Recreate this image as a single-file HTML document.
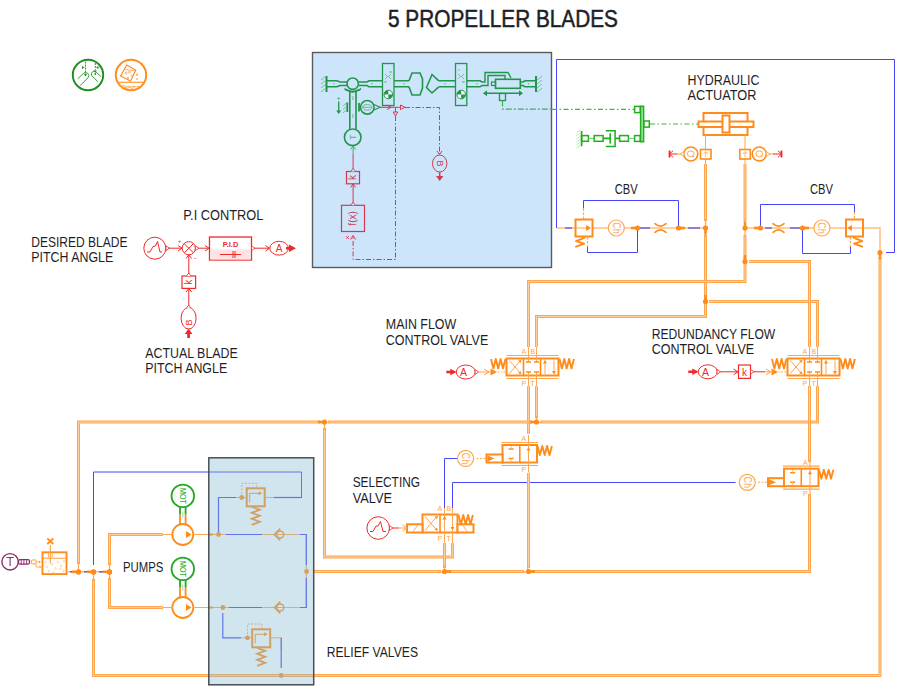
<!DOCTYPE html>
<html><head><meta charset="utf-8"><style>
html,body{margin:0;padding:0;background:#fff;}
svg{display:block;font-family:"Liberation Sans",sans-serif;}
</style></head><body>
<svg width="900" height="691" viewBox="0 0 900 691">
<rect x="312.5" y="52.5" width="239" height="215" fill="#cce5fb" stroke="#5a5a5a" stroke-width="1.4"/><text x="388" y="26.8" font-size="23.5" fill="#1e1e28" stroke="#1e1e28" stroke-width="0.5" text-anchor="start" font-weight="normal" textLength="230" lengthAdjust="spacingAndGlyphs">5 PROPELLER BLADES</text><text x="687.5" y="84.5" font-size="14" fill="#1e1e28" stroke="#1e1e28" stroke-width="0" text-anchor="start" font-weight="normal" textLength="72" lengthAdjust="spacingAndGlyphs">HYDRAULIC</text><text x="687.5" y="100" font-size="14" fill="#1e1e28" stroke="#1e1e28" stroke-width="0" text-anchor="start" font-weight="normal" textLength="69" lengthAdjust="spacingAndGlyphs">ACTUATOR</text><text x="614.7" y="193.8" font-size="14" fill="#1e1e28" stroke="#1e1e28" stroke-width="0" text-anchor="start" font-weight="normal" textLength="23" lengthAdjust="spacingAndGlyphs">CBV</text><text x="810" y="193.8" font-size="14" fill="#1e1e28" stroke="#1e1e28" stroke-width="0" text-anchor="start" font-weight="normal" textLength="23" lengthAdjust="spacingAndGlyphs">CBV</text><text x="183.2" y="219.8" font-size="14" fill="#1e1e28" stroke="#1e1e28" stroke-width="0" text-anchor="start" font-weight="normal" textLength="80.2" lengthAdjust="spacingAndGlyphs">P.I CONTROL</text><text x="31.3" y="246.7" font-size="14" fill="#1e1e28" stroke="#1e1e28" stroke-width="0" text-anchor="start" font-weight="normal" textLength="96.2" lengthAdjust="spacingAndGlyphs">DESIRED BLADE</text><text x="31.3" y="261.7" font-size="14" fill="#1e1e28" stroke="#1e1e28" stroke-width="0" text-anchor="start" font-weight="normal" textLength="82" lengthAdjust="spacingAndGlyphs">PITCH ANGLE</text><text x="145.2" y="357.7" font-size="14" fill="#1e1e28" stroke="#1e1e28" stroke-width="0" text-anchor="start" font-weight="normal" textLength="92.6" lengthAdjust="spacingAndGlyphs">ACTUAL BLADE</text><text x="145.2" y="373.2" font-size="14" fill="#1e1e28" stroke="#1e1e28" stroke-width="0" text-anchor="start" font-weight="normal" textLength="82" lengthAdjust="spacingAndGlyphs">PITCH ANGLE</text><text x="385.8" y="328.8" font-size="14" fill="#1e1e28" stroke="#1e1e28" stroke-width="0" text-anchor="start" font-weight="normal" textLength="70.5" lengthAdjust="spacingAndGlyphs">MAIN FLOW</text><text x="385.8" y="344.5" font-size="14" fill="#1e1e28" stroke="#1e1e28" stroke-width="0" text-anchor="start" font-weight="normal" textLength="102.5" lengthAdjust="spacingAndGlyphs">CONTROL VALVE</text><text x="651.7" y="338.7" font-size="14" fill="#1e1e28" stroke="#1e1e28" stroke-width="0" text-anchor="start" font-weight="normal" textLength="123.6" lengthAdjust="spacingAndGlyphs">REDUNDANCY FLOW</text><text x="651.7" y="354" font-size="14" fill="#1e1e28" stroke="#1e1e28" stroke-width="0" text-anchor="start" font-weight="normal" textLength="102.5" lengthAdjust="spacingAndGlyphs">CONTROL VALVE</text><text x="352.7" y="487" font-size="14" fill="#1e1e28" stroke="#1e1e28" stroke-width="0" text-anchor="start" font-weight="normal" textLength="67.3" lengthAdjust="spacingAndGlyphs">SELECTING</text><text x="352.7" y="502.6" font-size="14" fill="#1e1e28" stroke="#1e1e28" stroke-width="0" text-anchor="start" font-weight="normal" textLength="39.3" lengthAdjust="spacingAndGlyphs">VALVE</text><text x="123" y="572" font-size="14" fill="#1e1e28" stroke="#1e1e28" stroke-width="0" text-anchor="start" font-weight="normal" textLength="40.3" lengthAdjust="spacingAndGlyphs">PUMPS</text><text x="326.7" y="657.3" font-size="14" fill="#1e1e28" stroke="#1e1e28" stroke-width="0" text-anchor="start" font-weight="normal" textLength="91.3" lengthAdjust="spacingAndGlyphs">RELIEF VALVES</text><path d="M556.5,228 L556.5,59.5 L894.5,59.5 L894.5,252.5 L886,252.5" fill="none" stroke="#4646fa" stroke-width="1" /><path d="M583.5,208.5 L583.5,200.5 L678.5,200.5 L678.5,228" fill="none" stroke="#4646fa" stroke-width="1" /><path d="M587.5,247 L587.5,252.5 L637.5,252.5 L637.5,228" fill="none" stroke="#4646fa" stroke-width="1" /><path d="M760.5,228 L760.5,204.5 L854.5,204.5 L854.5,212" fill="none" stroke="#4646fa" stroke-width="1" /><path d="M802.5,228 L802.5,253.5 L850.5,253.5 L850.5,247" fill="none" stroke="#4646fa" stroke-width="1" /><path d="M93.5,565 L93.5,472 L301.5,472 L301.5,497.5 L273.8,497.5" fill="none" stroke="#4646fa" stroke-width="1" /><path d="M444.5,510 L444.5,458.5 L457,458.5" fill="none" stroke="#4646fa" stroke-width="1" /><path d="M452.5,510 L452.5,482.5 L735.5,482.5" fill="none" stroke="#4646fa" stroke-width="1" /><path d="M705.5,164 L705.5,221" fill="none" stroke="#ffa64e" stroke-width="3" stroke-linejoin="miter"/><path d="M705.5,164 L705.5,221" fill="none" stroke="#ffcf9c" stroke-width="1" stroke-linejoin="miter"/><path d="M745,164 L745,221" fill="none" stroke="#ffa64e" stroke-width="3" stroke-linejoin="miter"/><path d="M745,164 L745,221" fill="none" stroke="#ffcf9c" stroke-width="1" stroke-linejoin="miter"/><path d="M705.5,235 L705.5,316.5 L536.5,316.5 L536.5,347" fill="none" stroke="#ffa64e" stroke-width="3" stroke-linejoin="miter"/><path d="M705.5,235 L705.5,316.5 L536.5,316.5 L536.5,347" fill="none" stroke="#ffcf9c" stroke-width="1" stroke-linejoin="miter"/><path d="M745,235 L745,281.5 L528.5,281.5 L528.5,347" fill="none" stroke="#ffa64e" stroke-width="3" stroke-linejoin="miter"/><path d="M745,235 L745,281.5 L528.5,281.5 L528.5,347" fill="none" stroke="#ffcf9c" stroke-width="1" stroke-linejoin="miter"/><path d="M709,301.5 L817.5,301.5 L817.5,347" fill="none" stroke="#ffa64e" stroke-width="3" stroke-linejoin="miter"/><path d="M709,301.5 L817.5,301.5 L817.5,347" fill="none" stroke="#ffcf9c" stroke-width="1" stroke-linejoin="miter"/><path d="M749,261.5 L809.5,261.5 L809.5,347" fill="none" stroke="#ffa64e" stroke-width="3" stroke-linejoin="miter"/><path d="M749,261.5 L809.5,261.5 L809.5,347" fill="none" stroke="#ffcf9c" stroke-width="1" stroke-linejoin="miter"/><path d="M528.5,386 L528.5,434" fill="none" stroke="#ffa64e" stroke-width="3" stroke-linejoin="miter"/><path d="M528.5,386 L528.5,434" fill="none" stroke="#ffcf9c" stroke-width="1" stroke-linejoin="miter"/><path d="M536.5,386 L536.5,418" fill="none" stroke="#ffa64e" stroke-width="3" stroke-linejoin="miter"/><path d="M536.5,386 L536.5,418" fill="none" stroke="#ffcf9c" stroke-width="1" stroke-linejoin="miter"/><path d="M78.5,564 L78.5,422 L320,422" fill="none" stroke="#ffa64e" stroke-width="3" stroke-linejoin="miter"/><path d="M78.5,564 L78.5,422 L320,422" fill="none" stroke="#ffcf9c" stroke-width="1" stroke-linejoin="miter"/><path d="M328,422 L532,422" fill="none" stroke="#ffa64e" stroke-width="3" stroke-linejoin="miter"/><path d="M328,422 L532,422" fill="none" stroke="#ffcf9c" stroke-width="1" stroke-linejoin="miter"/><path d="M540,422 L817.5,422 L817.5,386" fill="none" stroke="#ffa64e" stroke-width="3" stroke-linejoin="miter"/><path d="M540,422 L817.5,422 L817.5,386" fill="none" stroke="#ffcf9c" stroke-width="1" stroke-linejoin="miter"/><path d="M809.5,386 L809.5,462" fill="none" stroke="#ffa64e" stroke-width="3" stroke-linejoin="miter"/><path d="M809.5,386 L809.5,462" fill="none" stroke="#ffcf9c" stroke-width="1" stroke-linejoin="miter"/><path d="M324.5,428 L324.5,557 L452.5,557 L452.5,543" fill="none" stroke="#ffa64e" stroke-width="3" stroke-linejoin="miter"/><path d="M324.5,428 L324.5,557 L452.5,557 L452.5,543" fill="none" stroke="#ffcf9c" stroke-width="1" stroke-linejoin="miter"/><path d="M313,571.5 L441,571.5" fill="none" stroke="#ffa64e" stroke-width="3" stroke-linejoin="miter"/><path d="M313,571.5 L441,571.5" fill="none" stroke="#ffcf9c" stroke-width="1" stroke-linejoin="miter"/><path d="M449,571.5 L524,571.5" fill="none" stroke="#ffa64e" stroke-width="3" stroke-linejoin="miter"/><path d="M449,571.5 L524,571.5" fill="none" stroke="#ffcf9c" stroke-width="1" stroke-linejoin="miter"/><path d="M532,571.5 L809.5,571.5 L809.5,494" fill="none" stroke="#ffa64e" stroke-width="3" stroke-linejoin="miter"/><path d="M532,571.5 L809.5,571.5 L809.5,494" fill="none" stroke="#ffcf9c" stroke-width="1" stroke-linejoin="miter"/><path d="M528.5,473 L528.5,568" fill="none" stroke="#ffa64e" stroke-width="3" stroke-linejoin="miter"/><path d="M528.5,473 L528.5,568" fill="none" stroke="#ffcf9c" stroke-width="1" stroke-linejoin="miter"/><path d="M444.5,543 L444.5,568" fill="none" stroke="#ffa64e" stroke-width="3" stroke-linejoin="miter"/><path d="M444.5,543 L444.5,568" fill="none" stroke="#ffcf9c" stroke-width="1" stroke-linejoin="miter"/><path d="M880,258 L880,675.5 L93.5,675.5 L93.5,579" fill="none" stroke="#ffa64e" stroke-width="3" stroke-linejoin="miter"/><path d="M880,258 L880,675.5 L93.5,675.5 L93.5,579" fill="none" stroke="#ffcf9c" stroke-width="1" stroke-linejoin="miter"/><path d="M109.5,565 L109.5,534.5 L163,534.5" fill="none" stroke="#ffa64e" stroke-width="3" stroke-linejoin="miter"/><path d="M109.5,565 L109.5,534.5 L163,534.5" fill="none" stroke="#ffcf9c" stroke-width="1" stroke-linejoin="miter"/><path d="M109.5,578 L109.5,607.5 L163,607.5" fill="none" stroke="#ffa64e" stroke-width="3" stroke-linejoin="miter"/><path d="M109.5,578 L109.5,607.5 L163,607.5" fill="none" stroke="#ffcf9c" stroke-width="1" stroke-linejoin="miter"/><path d="M705.5,219 L705.5,237" fill="none" stroke="#ffa64e" stroke-width="1.2" /><path d="M745,219 L745,237" fill="none" stroke="#ffa64e" stroke-width="1.2" /><path d="M880,250 L880,260" fill="none" stroke="#ffa64e" stroke-width="1.2" /><path d="M318,422.5 L330,422.5" fill="none" stroke="#ffa64e" stroke-width="1.2" /><path d="M530,422.5 L542,422.5" fill="none" stroke="#ffa64e" stroke-width="1.2" /><path d="M536.5,416 L536.5,422.5" fill="none" stroke="#ffa64e" stroke-width="1.2" /><path d="M78.5,562 L78.5,572" fill="none" stroke="#ffa64e" stroke-width="1.2" /><path d="M324.5,422 L324.5,430" fill="none" stroke="#ffa64e" stroke-width="1.2" /><path d="M439,572 L451,572" fill="none" stroke="#ffa64e" stroke-width="1.2" /><path d="M522,572 L534,572" fill="none" stroke="#ffa64e" stroke-width="1.2" /><path d="M444.5,566 L444.5,572" fill="none" stroke="#ffa64e" stroke-width="1.2" /><path d="M93.5,572 L93.5,581" fill="none" stroke="#ffa64e" stroke-width="1.2" /><path d="M109.5,563 L109.5,580" fill="none" stroke="#ffa64e" stroke-width="1.2" /><path d="M527.8,566 L527.8,572" fill="none" stroke="#ffa64e" stroke-width="1.2" /><path d="M557,228 L575,228" fill="none" stroke="#ffbf80" stroke-width="1.5" /><path d="M592,228 L705.5,228" fill="none" stroke="#ffbf80" stroke-width="1.5" /><path d="M745,228 L845.5,228" fill="none" stroke="#ffbf80" stroke-width="1.5" /><path d="M863.5,228 L880,228 L880,252.5" fill="none" stroke="#ffbf80" stroke-width="1.5" /><path d="M565,228 L572,228" fill="none" stroke="#4646fa" stroke-width="1.2" /><path d="M640,228 L650,228" fill="none" stroke="#4646fa" stroke-width="1.2" /><path d="M688,228 L700,228" fill="none" stroke="#4646fa" stroke-width="1.2" /><path d="M765,228 L772,228" fill="none" stroke="#4646fa" stroke-width="1.2" /><path d="M790,228 L800,228" fill="none" stroke="#4646fa" stroke-width="1.2" /><circle cx="705.5" cy="228" r="2.6" fill="#ff8c1a"/><circle cx="745" cy="228" r="2.6" fill="#ff8c1a"/><circle cx="637.5" cy="228" r="2.6" fill="#ff8c1a"/><circle cx="678.5" cy="228" r="2.6" fill="#ff8c1a"/><circle cx="760.5" cy="228" r="2.6" fill="#ff8c1a"/><circle cx="802.5" cy="228" r="2.6" fill="#ff8c1a"/><circle cx="705.5" cy="301.5" r="2.6" fill="#ff8c1a"/><circle cx="745" cy="261.5" r="2.6" fill="#ff8c1a"/><circle cx="536.5" cy="422" r="2.6" fill="#ff8c1a"/><circle cx="324.5" cy="422" r="2.6" fill="#ff8c1a"/><circle cx="444.5" cy="571.5" r="2.6" fill="#ff8c1a"/><circle cx="528.5" cy="571.5" r="2.6" fill="#ff8c1a"/><circle cx="880" cy="252.5" r="2.6" fill="#ff8c1a"/><circle cx="78.5" cy="572" r="2.6" fill="#ff8c1a"/><circle cx="93.5" cy="572" r="2.6" fill="#ff8c1a"/><circle cx="109.5" cy="572" r="2.6" fill="#ff8c1a"/><path d="M705.5,228 L705.5,234.5" stroke="#ff8c1a" stroke-width="2.6"/><path d="M745,228 L745.0,221.5" stroke="#ff8c1a" stroke-width="2.6"/><path d="M705.5,301.5 L705.5,295.0" stroke="#ff8c1a" stroke-width="2.6"/><path d="M745,261.5 L745.0,255.0" stroke="#ff8c1a" stroke-width="2.6"/><path d="M324.5,422 L318.0,422.0" stroke="#ff8c1a" stroke-width="2.6"/><path d="M536.5,422 L530.0,422.0" stroke="#ff8c1a" stroke-width="2.6"/><path d="M444.5,571.5 L451.0,571.5" stroke="#ff8c1a" stroke-width="2.6"/><path d="M528.5,571.5 L535.0,571.5" stroke="#ff8c1a" stroke-width="2.6"/><path d="M880,252.5 L880.0,259.0" stroke="#ff8c1a" stroke-width="2.6"/><path d="M637.5,228 L631.0,228.0" stroke="#ff8c1a" stroke-width="2.6"/><path d="M678.5,228 L685.0,228.0" stroke="#ff8c1a" stroke-width="2.6"/><path d="M760.5,228 L754.0,228.0" stroke="#ff8c1a" stroke-width="2.6"/><path d="M802.5,228 L809.0,228.0" stroke="#ff8c1a" stroke-width="2.6"/><rect x="575.5" y="219.5" width="17" height="17" fill="none" stroke="#ff8c1a" stroke-width="2"/><rect x="846" y="219.5" width="17" height="17" fill="none" stroke="#ff8c1a" stroke-width="2"/><circle cx="616.3" cy="228" r="8" fill="#fff" stroke="#ffa64e" stroke-width="1.2"/><text x="616.3" y="228" font-size="11" fill="#ffa64e" text-anchor="middle" transform="rotate(90 616.3 228)" dy="3.8" textLength="11.5" lengthAdjust="spacingAndGlyphs">Ch</text><circle cx="822" cy="228" r="8" fill="#fff" stroke="#ffa64e" stroke-width="1.2"/><text x="822" y="228" font-size="11" fill="#ffa64e" text-anchor="middle" transform="rotate(90 822 228)" dy="3.8" textLength="11.5" lengthAdjust="spacingAndGlyphs">Ch</text><circle cx="465.6" cy="458.4" r="8" fill="#fff" stroke="#ffa64e" stroke-width="1.2"/><text x="465.6" y="458.4" font-size="11" fill="#ffa64e" text-anchor="middle" transform="rotate(90 465.6 458.4)" dy="3.8" textLength="11.5" lengthAdjust="spacingAndGlyphs">Ch</text><circle cx="747.3" cy="482.3" r="8" fill="#fff" stroke="#ffa64e" stroke-width="1.2"/><text x="747.3" y="482.3" font-size="11" fill="#ffa64e" text-anchor="middle" transform="rotate(90 747.3 482.3)" dy="3.8" textLength="11.5" lengthAdjust="spacingAndGlyphs">Ch</text><path d="M576,228 L590,228" stroke="#ffa64e" stroke-width="1"/><path d="M586,225 L591,228 L586,231 Z" fill="#ff8c1a"/><path d="M584.3,237.8 L576,241.2 L584.3,243.6 L576,246.6" fill="none" stroke="#ff8c1a" stroke-width="1.9" stroke-linecap="round" stroke-linejoin="round"/><path d="M583.5,208.5 L583.5,219" stroke="#ffa64e" stroke-width="1.2" stroke-dasharray="2.5,1.5"/><path d="M587.5,237 L587.5,247" stroke="#ffa64e" stroke-width="1.2" stroke-dasharray="2.5,1.5"/><path d="M848,228 L862,228" stroke="#ffa64e" stroke-width="1"/><path d="M852,225 L847,228 L852,231 Z" fill="#ff8c1a"/><path d="M854,237.8 L862.3,241.2 L854,243.6 L862.3,246.6" fill="none" stroke="#ff8c1a" stroke-width="1.9" stroke-linecap="round" stroke-linejoin="round"/><path d="M854.5,212 L854.5,219" stroke="#ffa64e" stroke-width="1.2" stroke-dasharray="2.5,1.5"/><path d="M850.5,237 L850.5,247" stroke="#ffa64e" stroke-width="1.2" stroke-dasharray="2.5,1.5"/><path d="M655.0,223.7 Q660.5,228.7 666.0,223.7 M655.0,232.3 Q660.5,227.3 666.0,232.3" fill="none" stroke="#ff8c1a" stroke-width="1.6" stroke-linecap="round"/><path d="M773.0,223.7 Q778.5,228.7 784.0,223.7 M773.0,232.3 Q778.5,227.3 784.0,232.3" fill="none" stroke="#ff8c1a" stroke-width="1.6" stroke-linecap="round"/><rect x="703.5" y="113" width="44" height="22" fill="#fff" stroke="#ff8c1a" stroke-width="2"/><rect x="698.5" y="121.5" width="55" height="5.5" fill="#fff" stroke="#ff8c1a" stroke-width="2"/><rect x="722.5" y="115.5" width="7" height="17" fill="#fff" stroke="#ff8c1a" stroke-width="2"/><path d="M705.5,135 L705.5,149.5" fill="none" stroke="#ffa64e" stroke-width="1" /><path d="M745,135 L745,149.5" fill="none" stroke="#ffa64e" stroke-width="1" /><path d="M705.5,159 L705.5,164" fill="none" stroke="#ffa64e" stroke-width="1" /><path d="M745,159 L745,164" fill="none" stroke="#ffa64e" stroke-width="1" /><rect x="700.5" y="149.5" width="10.5" height="9.5" fill="#fff" stroke="#ff8c1a" stroke-width="1.6"/><path d="M705.7,157 L705.7,152 M703.5,154 L705.7,151.5 L707.9,154" fill="none" stroke="#ffa64e" stroke-width="0.8"/><rect x="739.8" y="149.5" width="10.5" height="9.5" fill="#fff" stroke="#ff8c1a" stroke-width="1.6"/><path d="M745.0,157 L745.0,152 M742.8,154 L745.0,151.5 L747.1999999999999,154" fill="none" stroke="#ffa64e" stroke-width="0.8"/><circle cx="690.8" cy="154" r="7" fill="#fff" stroke="#ff8c1a" stroke-width="1.6"/><ellipse cx="690.8" cy="153.8" rx="3.4" ry="2.9" fill="none" stroke="#ffa040" stroke-width="0.9"/><path d="M692.3,155.5 L694.4,157.4" stroke="#ffa040" stroke-width="0.9"/><path d="M683.8,151.6 L683.8,156.4 L680.0,154 Z" fill="#fff" stroke="#ffa040" stroke-width="0.9"/><path d="M680.3,154 L677.3,154" stroke="#ffa040" stroke-width="1"/><path d="M677.3,154 L669.5,154 M673.0,150.8 L669.5,154 L673.0,157.2" fill="none" stroke="#ee2a2a" stroke-width="1"/><path d="M669.5,150.5 L669.5,157.5" stroke="#ee2a2a" stroke-width="1.8"/><circle cx="759.3" cy="154" r="7" fill="#fff" stroke="#ff8c1a" stroke-width="1.6"/><ellipse cx="759.3" cy="153.8" rx="3.4" ry="2.9" fill="none" stroke="#ffa040" stroke-width="0.9"/><path d="M760.8,155.5 L762.9,157.4" stroke="#ffa040" stroke-width="0.9"/><path d="M766.3,151.6 L766.3,156.4 L770.0999999999999,154 Z" fill="#fff" stroke="#ffa040" stroke-width="0.9"/><path d="M769.8,154 L772.8,154" stroke="#ffa040" stroke-width="1"/><path d="M772.8,154 L781.5,154 M778.0,150.8 L781.5,154 L778.0,157.2" fill="none" stroke="#ee2a2a" stroke-width="1"/><path d="M781.5,150.5 L781.5,157.5" stroke="#ee2a2a" stroke-width="1.8"/><path d="M552,109.3 L634,109.3" fill="none" stroke="#3cb83c" stroke-width="1.3" stroke-dasharray="5,2.5,1.5,2.5"/><path d="M650,124 L698,124" fill="none" stroke="#7ccf7c" stroke-width="1.3" stroke-dasharray="5,2.5,1.5,2.5"/><rect x="640.6" y="106.3" width="3" height="35.4" fill="#a8e0a8" stroke="#1fae1f" stroke-width="1.5"/><rect x="634.6" y="106.4" width="5.6" height="6.2" fill="none" stroke="#1fae1f" stroke-width="1.5"/><rect x="634.6" y="135.6" width="5.6" height="5.8" fill="none" stroke="#1fae1f" stroke-width="1.5"/><rect x="643.8" y="121" width="5.5" height="6.1" fill="none" stroke="#1fae1f" stroke-width="1.5"/><path d="M581.6,131 L581.6,146.3" stroke="#1fae1f" stroke-width="1.7"/><path d="M576.5,133 l4,-3 M576.5,136 l4,-3 M576.5,139 l4,-3 M576.5,142 l4,-3 M576.5,145 l4,-3 M576.5,148 l4,-3" stroke="#9ad89a" stroke-width="0.7"/><rect x="581.6" y="135.6" width="6.8" height="5.7" fill="none" stroke="#1fae1f" stroke-width="1.5"/><path d="M588.4,138.4 L594.2,138.4" fill="none" stroke="#6cc86c" stroke-width="1" /><rect x="594.2" y="135.6" width="8.9" height="5.7" fill="none" stroke="#1fae1f" stroke-width="1.5"/><path d="M603,138.4 L610.2,138.4" fill="none" stroke="#1fae1f" stroke-width="1.8" /><path d="M610.2,133.3 L610.2,143.6" stroke="#1fae1f" stroke-width="1.6"/><path d="M605.8,130.7 L615.1,130.7 L615.1,146.4 L605.8,146.4" fill="none" stroke="#1fae1f" stroke-width="1.5"/><path d="M615.1,138.4 L619.6,138.4" fill="none" stroke="#1fae1f" stroke-width="1.8" /><rect x="619.6" y="135.6" width="8.8" height="5.7" fill="none" stroke="#1fae1f" stroke-width="1.5"/><path d="M628.4,138.4 L634.2,138.4" fill="none" stroke="#6cc86c" stroke-width="1" /><circle cx="88" cy="75" r="15.2" fill="none" stroke="#1e8c1e" stroke-width="1.9"/><path d="M77.8,78.8 L83.2,73.6 A3,3 0 0 1 88,77.8 L80.2,85.5 M101,76.8 L95.8,71.6 A3,3 0 0 0 91.8,75.8 L98,81.8" fill="none" stroke="#3a9e3a" stroke-width="1"/><path d="M85.5,61.5 L85.5,74 M95.3,63 L95.3,70" stroke="#1e8c1e" stroke-width="0.9" stroke-dasharray="2,1"/><path d="M82,66 L84.5,67.5 L82,69 Z M98.5,66 L96,67.5 L98.5,69 Z M84,74 L87,74 L85.5,76.5 Z M93.8,70.5 L96.8,70.5 L95.3,73 Z" fill="#1e8c1e"/><circle cx="95.3" cy="74" r="0.9" fill="#1e8c1e"/><circle cx="131" cy="75" r="15.2" fill="none" stroke="#ff8c1a" stroke-width="1.9"/><path d="M118,82.3 L144,82.3" stroke="#ff9a30" stroke-width="1.2"/><path d="M126.8,65 L135.8,70.2 L130.5,81 L120.5,76 Z" fill="none" stroke="#ff8c1a" stroke-width="1.1"/><path d="M125,69.5 L135,70.8" stroke="#ffa040" stroke-width="0.8"/><path d="M119.5,85 l2,1.5 l2.5,-1 l2.5,1.5 l2.5,-1 l2.5,1 l2.5,-1 l2.5,1 l2.5,-1 M122,88 l2.5,-0.8 l2.5,1.2 l2.5,-1 l2.5,1 l2.5,-1" fill="none" stroke="#ffa040" stroke-width="0.9"/><circle cx="126" cy="73" r="1" fill="none" stroke="#ff9a30" stroke-width="0.7"/><circle cx="129.5" cy="72" r="1" fill="none" stroke="#ff9a30" stroke-width="0.7"/><circle cx="128" cy="78" r="0.9" fill="#ffa040"/><circle cx="131.5" cy="75.5" r="0.8" fill="#ffa040"/><circle cx="137" cy="74.8" r="1" fill="#ffa040"/><circle cx="137" cy="79" r="0.9" fill="#ffb060"/><circle cx="154.8" cy="248.2" r="11" fill="#fff" stroke="#ee2a2a" stroke-width="1"/><path d="M147,252 L150,252 L153,246.5 L155.5,246 L157.5,241.5 L160,252 L162,252" fill="none" stroke="#ee2a2a" stroke-width="1"/><path d="M166,245.8 L169.5,248.2 L166,250.6 Z" fill="#fff" stroke="#ee2a2a" stroke-width="0.8"/><path d="M168.5,248.2 L182,248.2" fill="none" stroke="#ee2a2a" stroke-width="1" /><path d="M178,245.5 L182,248.2 L178,251" fill="none" stroke="#ee2a2a" stroke-width="1"/><circle cx="188.8" cy="248.2" r="6.6" fill="#fff" stroke="#ee2a2a" stroke-width="1"/><path d="M184.2,243.6 L193.4,252.8 M193.4,243.6 L184.2,252.8" stroke="#ee2a2a" stroke-width="1"/><path d="M195.4,245.8 L198.8,248.2 L195.4,250.6 Z" fill="#fff" stroke="#ee2a2a" stroke-width="0.8"/><text x="178" y="243" font-size="6" fill="#ee2a2a">+</text><text x="194" y="260" font-size="7" fill="#ee2a2a">-</text><path d="M198,248.2 L209,248.2" fill="none" stroke="#ee2a2a" stroke-width="1" /><path d="M205,245.5 L209,248.2 L205,251" fill="none" stroke="#ee2a2a" stroke-width="1"/><rect x="209.5" y="237" width="42" height="23" fill="#fff" stroke="#ee2a2a" stroke-width="1.3"/><rect x="210.2" y="249.5" width="40.6" height="10" fill="#fde3e3"/><text x="230.5" y="246.5" font-size="7.5" font-weight="bold" fill="#ee2a2a" text-anchor="middle">P.I.D</text><path d="M220,254.5 L241,254.5 M233,251 L233,258 M235,251 L235,258" stroke="#ee2a2a" stroke-width="1"/><path d="M251.5,245.8 L255,248.2 L251.5,250.6 Z" fill="#fff" stroke="#ee2a2a" stroke-width="0.8"/><path d="M254.5,248.2 L269.5,248.2" fill="none" stroke="#ee2a2a" stroke-width="1" /><path d="M265.5,245.5 L269.5,248.2 L265.5,251" fill="none" stroke="#ee2a2a" stroke-width="1"/><ellipse cx="279.1" cy="248.2" rx="9.3" ry="6.9" fill="#fff" stroke="#ee2a2a" stroke-width="1"/><text x="279.1" y="252" font-size="10" fill="#ee2a2a" text-anchor="middle">A</text><path d="M289,244.5 L296,248.2 L289,252 Z M286,247 L290,247 L290,249.5 L286,249.5 Z" fill="#ee2a2a"/><path d="M188.8,254.8 L188.8,275.9" fill="none" stroke="#ee2a2a" stroke-width="1" /><path d="M186,258.5 L188.8,254.8 L191.6,258.5" fill="none" stroke="#ee2a2a" stroke-width="1"/><rect x="182" y="276" width="13.6" height="12.4" fill="#fff" stroke="#ee2a2a" stroke-width="1.2"/><text x="188.8" y="282.2" font-size="10" fill="#ee2a2a" text-anchor="middle" transform="rotate(-90 188.8 282.2)" dy="3.5">k</text><path d="M186.5,276 L188.8,273 L191.1,276" fill="#fff" stroke="#ee2a2a" stroke-width="0.8"/><path d="M188.8,288.4 L188.8,307.3" fill="none" stroke="#ee2a2a" stroke-width="1" /><path d="M186,292 L188.8,288.4 L191.6,292" fill="none" stroke="#ee2a2a" stroke-width="1"/><ellipse cx="188.6" cy="318.2" rx="7.5" ry="10.8" fill="#fff" stroke="#ee2a2a" stroke-width="1"/><path d="M186.5,307.8 L188.6,305 L190.7,307.8" fill="#fff" stroke="#ee2a2a" stroke-width="0.8"/><text x="188.6" y="322.5" font-size="9" fill="#ee2a2a" text-anchor="middle" transform="rotate(-90 188.6 322.5)" dy="3.2">B</text><path d="M184.8,334 L188.6,328.5 L192.4,334 Z M187.2,333 L190,333 L190,338 L187.2,338 Z" fill="#ee2a2a"/><rect x="506.5" y="358.5" width="52.0" height="17.0" fill="#fff" stroke="#ff8c1a" stroke-width="2"/><path d="M523.5,358.5 L523.5,375.5 M540.5,358.5 L540.5,375.5" stroke="#ff8c1a" stroke-width="1.6"/><path d="M506.5,355.5 L558.5,355.5 M506.5,378.5 L558.5,378.5" stroke="#ffa64e" stroke-width="1"/><path d="M528.5,347 L528.5,362 M536.5,347 L536.5,362 M528.5,372 L528.5,386 M536.5,372 L536.5,386" stroke="#ffa64e" stroke-width="1"/><path d="M526.0,362 L531.0,362 M534.0,362 L539.0,362 M526.0,372 L531.0,372 M534.0,372 L539.0,372" stroke="#ff8c1a" stroke-width="1.4"/><path d="M509.5,360.5 L520.5,373.5 M520.5,360.5 L509.5,373.5" stroke="#ffa64e" stroke-width="1"/><path d="M521.5,360 l-3.5,0.5 l2.5,2.5 Z M521.5,374 l-3.5,-0.5 l2.5,-2.5 Z" fill="#ff8c1a"/><path d="M545.0,360.5 L545.0,374 M554.0,360.5 L554.0,374" stroke="#ffa64e" stroke-width="1"/><path d="M545.0,360 l-2,3.5 l4,0 Z M554.0,374.5 l-2,-3.5 l4,0 Z" fill="#ff8c1a"/><path d="M491.0,359 l2.4,9.4 l2.4,-9.4 l2.4,9.4 l2.4,-9.4 l2.4,9.4 l2.4,-9.4" fill="none" stroke="#ff8c1a" stroke-width="1.9" stroke-linejoin="round"/><path d="M559.5,359 l2.4,9.4 l2.4,-9.4 l2.4,9.4 l2.4,-9.4 l2.4,9.4 l2.4,-9.4" fill="none" stroke="#ff8c1a" stroke-width="1.9" stroke-linejoin="round"/><text x="521.5" y="354" font-size="7" fill="#ffa449">A</text><text x="530.5" y="354" font-size="7" fill="#ffa449">B</text><text x="521.5" y="385.5" font-size="7" fill="#ffa449">P</text><text x="530.5" y="385.5" font-size="7" fill="#ffa449">T</text><path d="M490.5,368.5 L497.0,372 L490.5,375.5 Z" fill="#ff8c1a"/><path d="M497.5,372 L506.5,372" stroke="#ffa64e" stroke-width="1" stroke-dasharray="1.5,1.5"/><rect x="787.5" y="358.5" width="52.0" height="17.0" fill="#fff" stroke="#ff8c1a" stroke-width="2"/><path d="M804.5,358.5 L804.5,375.5 M821.5,358.5 L821.5,375.5" stroke="#ff8c1a" stroke-width="1.6"/><path d="M787.5,355.5 L839.5,355.5 M787.5,378.5 L839.5,378.5" stroke="#ffa64e" stroke-width="1"/><path d="M809.5,347 L809.5,362 M817.5,347 L817.5,362 M809.5,372 L809.5,386 M817.5,372 L817.5,386" stroke="#ffa64e" stroke-width="1"/><path d="M807.0,362 L812.0,362 M815.0,362 L820.0,362 M807.0,372 L812.0,372 M815.0,372 L820.0,372" stroke="#ff8c1a" stroke-width="1.4"/><path d="M790.5,360.5 L801.5,373.5 M801.5,360.5 L790.5,373.5" stroke="#ffa64e" stroke-width="1"/><path d="M802.5,360 l-3.5,0.5 l2.5,2.5 Z M802.5,374 l-3.5,-0.5 l2.5,-2.5 Z" fill="#ff8c1a"/><path d="M826.0,360.5 L826.0,374 M835.0,360.5 L835.0,374" stroke="#ffa64e" stroke-width="1"/><path d="M826.0,360 l-2,3.5 l4,0 Z M835.0,374.5 l-2,-3.5 l4,0 Z" fill="#ff8c1a"/><path d="M772.0,359 l2.4,9.4 l2.4,-9.4 l2.4,9.4 l2.4,-9.4 l2.4,9.4 l2.4,-9.4" fill="none" stroke="#ff8c1a" stroke-width="1.9" stroke-linejoin="round"/><path d="M840.5,359 l2.4,9.4 l2.4,-9.4 l2.4,9.4 l2.4,-9.4 l2.4,9.4 l2.4,-9.4" fill="none" stroke="#ff8c1a" stroke-width="1.9" stroke-linejoin="round"/><text x="802.5" y="354" font-size="7" fill="#ffa449">A</text><text x="811.5" y="354" font-size="7" fill="#ffa449">B</text><text x="802.5" y="385.5" font-size="7" fill="#ffa449">P</text><text x="811.5" y="385.5" font-size="7" fill="#ffa449">T</text><path d="M771.5,368.5 L778.0,372 L771.5,375.5 Z" fill="#ff8c1a"/><path d="M778.5,372 L787.5,372" stroke="#ffa64e" stroke-width="1" stroke-dasharray="1.5,1.5"/><ellipse cx="465.8" cy="372" rx="9.5" ry="7" fill="#fff" stroke="#ee2a2a" stroke-width="1"/><text x="463.5" y="375.8" font-size="10.5" fill="#ee2a2a" text-anchor="middle">A</text><path d="M450.3,368.8 L456.6,372 L450.3,375.2 Z M446.3,370.7 L451.8,370.7 L451.8,373.3 L446.3,373.3 Z" fill="#ee2a2a"/><path d="M475.1,369.6 L478.6,372 L475.1,374.4 Z" fill="#fff" stroke="#ee2a2a" stroke-width="0.8"/><path d="M478.3,372 L490,372" fill="none" stroke="#ffa24a" stroke-width="1" /><path d="M484,369 L489,372 L484,375" fill="none" stroke="#ffa24a" stroke-width="1"/><ellipse cx="707.8" cy="371.8" rx="9.5" ry="7" fill="#fff" stroke="#ee2a2a" stroke-width="1"/><text x="705.5" y="375.6" font-size="10.5" fill="#ee2a2a" text-anchor="middle">A</text><path d="M692.3,368.6 L698.5999999999999,371.8 L692.3,375.0 Z M688.3,370.5 L693.8,370.5 L693.8,373.1 L688.3,373.1 Z" fill="#ee2a2a"/><path d="M717.0999999999999,369.40000000000003 L720.5999999999999,371.8 L717.0999999999999,374.2 Z" fill="#fff" stroke="#ee2a2a" stroke-width="0.8"/><path d="M720.3,371.8 L738.4,371.8" fill="none" stroke="#ee2a2a" stroke-width="1" /><path d="M733.5,369 L738,371.8 L733.5,374.6" fill="none" stroke="#ee2a2a" stroke-width="1"/><rect x="738.5" y="365" width="12" height="13.4" fill="#fff" stroke="#ee2a2a" stroke-width="1.2"/><text x="744.5" y="375.5" font-size="10" fill="#ee2a2a" text-anchor="middle">k</text><path d="M750.5,369.4 L754,371.8 L750.5,374.2 Z" fill="#fff" stroke="#ee2a2a" stroke-width="0.8"/><path d="M753.5,371.8 L765,371.8" fill="none" stroke="#ee2a2a" stroke-width="1" /><path d="M765,371.8 L771,371.8" fill="none" stroke="#ffa24a" stroke-width="1" /><path d="M766,369 L771,371.8 L766,374.6" fill="none" stroke="#ffa24a" stroke-width="1"/><rect x="502.5" y="445" width="34.5" height="17.5" fill="#fff" stroke="#ff8c1a" stroke-width="2"/><path d="M519.8,445 L519.8,462.5" stroke="#ff8c1a" stroke-width="1.6"/><path d="M501.5,442.5 L538,442.5 M501.5,465.5 L538,465.5" stroke="#ffa64e" stroke-width="1.2"/><path d="M528.5,435 L528.5,472.5" stroke="#ffa64e" stroke-width="1"/><path d="M528.5,447 l-2,3.5 l4,0 Z" fill="#ff8c1a"/><path d="M508.65,449 L513.65,449 M508.65,458.5 L513.65,458.5" stroke="#ff8c1a" stroke-width="1.4"/><path d="M511.15,446 L511.15,449 M511.15,461.5 L511.15,458.5" stroke="#ffb060" stroke-width="0.8"/><path d="M537.5,446 l2.4,9 l2.4,-9 l2.4,9 l2.4,-9 l2.4,9 l2.4,-9" fill="none" stroke="#ff8c1a" stroke-width="1.9" stroke-linejoin="round"/><rect x="486.5" y="454.5" width="16" height="8" fill="#fff" stroke="#ff8c1a" stroke-width="2"/><path d="M487.5,455.5 L494.5,458.5 L487.5,461.5 Z" fill="#ff8c1a"/><text x="521.5" y="441" font-size="7" fill="#ffa449">A</text><text x="521.5" y="472.0" font-size="7" fill="#ffa449">P</text><path d="M476.5,458.5 L486.5,458.5" stroke="#ffa64e" stroke-width="1" stroke-dasharray="2,1.5"/><rect x="784.0" y="468.7" width="34.5" height="17.5" fill="#fff" stroke="#ff8c1a" stroke-width="2"/><path d="M801.3,468.7 L801.3,486.2" stroke="#ff8c1a" stroke-width="1.6"/><path d="M783.0,466.2 L819.5,466.2 M783.0,489.2 L819.5,489.2" stroke="#ffa64e" stroke-width="1.2"/><path d="M810.0,458.7 L810.0,496.2" stroke="#ffa64e" stroke-width="1"/><path d="M810.0,470.7 l-2,3.5 l4,0 Z" fill="#ff8c1a"/><path d="M790.15,472.7 L795.15,472.7 M790.15,482.2 L795.15,482.2" stroke="#ff8c1a" stroke-width="1.4"/><path d="M792.65,469.7 L792.65,472.7 M792.65,485.2 L792.65,482.2" stroke="#ffb060" stroke-width="0.8"/><path d="M819.0,469.7 l2.4,9 l2.4,-9 l2.4,9 l2.4,-9 l2.4,9 l2.4,-9" fill="none" stroke="#ff8c1a" stroke-width="1.9" stroke-linejoin="round"/><rect x="768.0" y="478.2" width="16" height="8" fill="#fff" stroke="#ff8c1a" stroke-width="2"/><path d="M769.0,479.2 L776.0,482.2 L769.0,485.2 Z" fill="#ff8c1a"/><text x="803.0" y="464.7" font-size="7" fill="#ffa449">A</text><text x="803.0" y="495.7" font-size="7" fill="#ffa449">P</text><path d="M758.0,482.2 L768.0,482.2" stroke="#ffa64e" stroke-width="1" stroke-dasharray="2,1.5"/><rect x="422.5" y="514.5" width="35" height="18" fill="#fff" stroke="#ff8c1a" stroke-width="2"/><path d="M440,514.5 L440,532.5" stroke="#ff8c1a" stroke-width="1.6"/><rect x="407" y="524.3" width="15.5" height="8.2" fill="#fff" stroke="#ff8c1a" stroke-width="2"/><rect x="457.5" y="524.3" width="16" height="8.2" fill="#fff" stroke="#ff8c1a" stroke-width="2"/><path d="M413,531.5 L417.5,525.5 M463,525.5 L467,531.5" stroke="#ffa64e" stroke-width="0.9"/><path d="M458.5,515 l2.4,9.4 l2.4,-9.4 l2.4,9.4 l2.4,-9.4 l2.4,9.4 l2.4,-9.4" fill="none" stroke="#ff8c1a" stroke-width="1.9" stroke-linejoin="round"/><path d="M425,516.5 L437,530.5 M437,516.5 L425,530.5" stroke="#ffa64e" stroke-width="1"/><path d="M444.5,508 L444.5,543 M452.5,508 L452.5,543" stroke="#ffa64e" stroke-width="1"/><path d="M444.5,516 l-2,3.5 l4,0 Z M452.5,530.5 l-2,-3.5 l4,0 Z M438,516 l-3.5,0.5 l2.5,2.5 Z M438,530.5 l-3.5,-0.5 l2.5,-2.5 Z" fill="#ff8c1a"/><text x="437.5" y="511" font-size="7" fill="#ffa449">A</text><text x="446.5" y="511" font-size="7" fill="#ffa449">B</text><text x="437.5" y="541" font-size="7" fill="#ffa449">P</text><text x="446.5" y="541" font-size="7" fill="#ffa449">T</text><circle cx="378.2" cy="528" r="11.3" fill="#fff" stroke="#ee2a2a" stroke-width="1"/><path d="M370,531.5 L373,531.5 L376,526 L378,526 L380.5,521.5 L383,531.5 L386,531.5" fill="none" stroke="#ee2a2a" stroke-width="1"/><path d="M389.5,525.6 L393,528 L389.5,530.4 Z" fill="#fff" stroke="#ee2a2a" stroke-width="0.8"/><path d="M392.5,528 L399,528" fill="none" stroke="#ee2a2a" stroke-width="1" /><path d="M399,528 L407,528" fill="none" stroke="#ffa24a" stroke-width="1" /><path d="M402.5,525 L407,528 L402.5,531" fill="none" stroke="#ffa24a" stroke-width="1"/><circle cx="10.1" cy="561.8" r="8.2" fill="#fff" stroke="#8c2a6e" stroke-width="1.4"/><path d="M6.5,557.5 L13.7,557.5 M10.1,557.5 L10.1,566" stroke="#8c2a6e" stroke-width="1.1"/><rect x="18.5" y="559.7" width="11" height="4.4" rx="1.5" fill="#fff" stroke="#8c2a6e" stroke-width="1.3"/><path d="M21.2,559.7 L21.2,564.1 M23.9,559.7 L23.9,564.1 M26.6,559.7 L26.6,564.1" stroke="#8c2a6e" stroke-width="0.9"/><rect x="31.3" y="560" width="5" height="3.8" rx="1" fill="#fff" stroke="#ff9a30" stroke-width="1"/><path d="M36.3,561.9 L39,561.9 M36,563.8 L36,567 L39.5,567" fill="none" stroke="#ffa040" stroke-width="0.8"/><path d="M39,560.5 l2,1.4 l-2,1.4 Z M39.5,565.6 l2,1.4 l-2,1.4 Z" fill="#ff9a30"/><rect x="42.5" y="552.3" width="24" height="21.8" fill="#fff" stroke="#ff8c1a" stroke-width="1.9"/><path d="M43,558.2 L66,558.2" stroke="#ff9a30" stroke-width="1"/><circle cx="45.5" cy="562" r="0.9" fill="none" stroke="#ffc488" stroke-width="0.6"/><circle cx="47" cy="567" r="0.9" fill="none" stroke="#ffc488" stroke-width="0.6"/><circle cx="49" cy="571" r="0.9" fill="none" stroke="#ffc488" stroke-width="0.6"/><circle cx="52" cy="564.5" r="0.9" fill="none" stroke="#ffc488" stroke-width="0.6"/><circle cx="55.5" cy="568.5" r="0.9" fill="none" stroke="#ffc488" stroke-width="0.6"/><circle cx="58" cy="562" r="0.9" fill="none" stroke="#ffc488" stroke-width="0.6"/><circle cx="61" cy="566" r="0.9" fill="none" stroke="#ffc488" stroke-width="0.6"/><circle cx="63.5" cy="571" r="0.9" fill="none" stroke="#ffc488" stroke-width="0.6"/><circle cx="53.5" cy="572" r="0.9" fill="none" stroke="#ffc488" stroke-width="0.6"/><circle cx="60" cy="569" r="0.9" fill="none" stroke="#ffc488" stroke-width="0.6"/><circle cx="64" cy="561" r="0.9" fill="none" stroke="#ffc488" stroke-width="0.6"/><path d="M50.3,545 L50.3,563.5" stroke="#ff9a30" stroke-width="1"/><path d="M48.5,553.5 L48.5,557.5 M52.1,553.5 L52.1,557.5" stroke="#ff9a30" stroke-width="0.8"/><path d="M47.3,538.5 L53.3,544 M53.3,538.5 L47.3,544" stroke="#ff8c1a" stroke-width="1.7"/><path d="M66.5,571.8 L109.5,571.8" fill="none" stroke="#ffb870" stroke-width="1.5" /><path d="M70,571.8 L74,571.8" fill="none" stroke="#4646fa" stroke-width="1.2" /><path d="M84,571.8 L89,571.8" fill="none" stroke="#4646fa" stroke-width="1.2" /><path d="M99,571.8 L103,571.8" fill="none" stroke="#4646fa" stroke-width="1.2" /><path d="M78.5,571.8 L72.0,571.8" stroke="#ff8c1a" stroke-width="2.6"/><circle cx="78.5" cy="571.8" r="2.6" fill="#ff8c1a"/><path d="M93.5,571.8 L87.0,571.8" stroke="#ff8c1a" stroke-width="2.6"/><circle cx="93.5" cy="571.8" r="2.6" fill="#ff8c1a"/><path d="M109.5,571.8 L103.0,571.8" stroke="#ff8c1a" stroke-width="2.6"/><circle cx="109.5" cy="571.8" r="2.6" fill="#ff8c1a"/><circle cx="182.8" cy="534.5" r="10.5" fill="#fff" stroke="#ff8c1a" stroke-width="1.8"/><path d="M186,531.0 L191.5,534.5 L186,538.0 Z" fill="#ff8c1a"/><path d="M180,524.5 L180,514.5 M185.6,524.5 L185.6,514.5" stroke="#ff8c1a" stroke-width="1.8"/><path d="M180,514.5 L180,504.5 M185.6,514.5 L185.6,504.5" stroke="#22aa22" stroke-width="1.8"/><path d="M182.8,511.5 L182.8,517.5" stroke="#88cc88" stroke-width="0.8"/><circle cx="182.8" cy="495.9" r="11.3" fill="#fff" stroke="#22aa22" stroke-width="1.8"/><text x="182.8" y="495.9" font-size="9" fill="#22aa22" text-anchor="middle" dy="3.2" transform="rotate(90 182.8 495.9)" textLength="16" lengthAdjust="spacingAndGlyphs">MOT</text><path d="M163,534.5 L172.3,534.5" fill="none" stroke="#ffa64e" stroke-width="1" /><path d="M193.3,534.5 L209,534.5" fill="none" stroke="#ffa64e" stroke-width="1" /><circle cx="182.8" cy="607.5" r="10.5" fill="#fff" stroke="#ff8c1a" stroke-width="1.8"/><path d="M186,604.0 L191.5,607.5 L186,611.0 Z" fill="#ff8c1a"/><path d="M180,597.5 L180,587.5 M185.6,597.5 L185.6,587.5" stroke="#ff8c1a" stroke-width="1.8"/><path d="M180,587.5 L180,577.5 M185.6,587.5 L185.6,577.5" stroke="#22aa22" stroke-width="1.8"/><path d="M182.8,584.5 L182.8,590.5" stroke="#88cc88" stroke-width="0.8"/><circle cx="182.8" cy="568.9" r="11.3" fill="#fff" stroke="#22aa22" stroke-width="1.8"/><text x="182.8" y="568.9" font-size="9" fill="#22aa22" text-anchor="middle" dy="3.2" transform="rotate(90 182.8 568.9)" textLength="16" lengthAdjust="spacingAndGlyphs">MOT</text><path d="M163,607.5 L172.3,607.5" fill="none" stroke="#ffa64e" stroke-width="1" /><path d="M193.3,607.5 L209,607.5" fill="none" stroke="#ffa64e" stroke-width="1" /><path d="M326.5,76 L326.5,92" stroke="#23954a" stroke-width="2"/><path d="M321,80 l5,-4 M321,84 l5,-4 M321,88 l5,-4 M321,92 l5,-4" stroke="#5fb57e" stroke-width="0.8"/><path d="M327,80.8 L337,80.8 L340,82 L347,82 M327,86.8 L337,86.8 L340,85.5 L347,85.5" fill="none" stroke="#23954a" stroke-width="1.5"/><circle cx="352.7" cy="83.7" r="5.7" fill="#cce5fb" stroke="#23954a" stroke-width="1.6"/><path d="M346,89.5 Q352.7,94 359.5,89.5" fill="none" stroke="#23954a" stroke-width="1.8"/><path d="M344.5,88.5 l2,2 M361,88.5 l-2,2" stroke="#23954a" stroke-width="1.5"/><path d="M358.5,82 L367,82 L369,80.8 L382.5,80.8 M358.5,85.5 L367,85.5 L369,86.8 L382.5,86.8" fill="none" stroke="#23954a" stroke-width="1.5"/><circle cx="372" cy="83.8" r="0.6" fill="#23954a"/><circle cx="334" cy="83.8" r="0.6" fill="#23954a"/><rect x="382.5" y="63.5" width="11.5" height="42" fill="none" stroke="#23954a" stroke-width="1.3"/><circle cx="388.3" cy="94.5" r="4.3" fill="#fff" stroke="#23954a" stroke-width="1"/><path d="M388.3,94.5 L388.3,90.2 A4.3,4.3 0 0 0 384,94.5 Z M388.3,94.5 L388.3,98.8 A4.3,4.3 0 0 0 392.6,94.5 Z" fill="#23954a"/><path d="M385,74 l3,3 l3,-3 M385,79 l2,-2 M389,77 l2,2 M389.5,71 l2,2 M391.5,71 l-2,2 M384.5,81 l2,2 M386.5,81 l-2,2" fill="none" stroke="#5fb57e" stroke-width="0.8"/><path d="M394,80.8 L409,80.8 M394,86.8 L409,86.8" stroke="#23954a" stroke-width="1.5"/><circle cx="404" cy="83.8" r="0.6" fill="#23954a"/><path d="M409,80.8 L412,73 L420,73 L422.5,79 L422.5,88 L420,95 L412,95 L409,86.8" fill="none" stroke="#23954a" stroke-width="1.6"/><path d="M438.8,80.8 L432,74.5 L426.5,87.5 L432,93 L438.8,86.8" fill="none" stroke="#23954a" stroke-width="1.6"/><path d="M438.8,80.8 L455.5,80.8 M438.8,86.8 L455.5,86.8" stroke="#23954a" stroke-width="1.5"/><circle cx="445" cy="83.8" r="0.6" fill="#23954a"/><rect x="455.5" y="63.5" width="11.3" height="42" fill="none" stroke="#23954a" stroke-width="1.3"/><circle cx="461.2" cy="94.5" r="4.3" fill="#fff" stroke="#23954a" stroke-width="1"/><path d="M461.2,94.5 L461.2,90.2 A4.3,4.3 0 0 0 456.9,94.5 Z M461.2,94.5 L461.2,98.8 A4.3,4.3 0 0 0 465.5,94.5 Z" fill="#23954a"/><path d="M458,74 l3,3 l3,-3 M458,79 l2,-2 M462,77 l2,2 M458,71 l2,-2 M462.5,81 l2,2 M464.5,81 l-2,2" fill="none" stroke="#5fb57e" stroke-width="0.8"/><path d="M466.8,80.8 L480,80.8 L482,82 M466.8,86.8 L480,86.8 L482,85.5" fill="none" stroke="#23954a" stroke-width="1.5"/><circle cx="477" cy="83.8" r="0.6" fill="#23954a"/><path d="M482,82 L485,82 L485,72.5 L508,72.5 L511,78 M482,85.5 L488,85.5 L488,75.5 L505,75.5 L505,79" fill="none" stroke="#23954a" stroke-width="1.4"/><rect x="495.5" y="79.3" width="24.8" height="9" fill="none" stroke="#23954a" stroke-width="1.6"/><rect x="491.5" y="82" width="4" height="3.5" fill="none" stroke="#23954a" stroke-width="1.2"/><path d="M520.3,82 L523,82 L525,80.8 L535,80.8 M520.3,85.5 L523,85.5 L525,86.8 L535,86.8" fill="none" stroke="#23954a" stroke-width="1.5"/><circle cx="528.5" cy="83.8" r="0.6" fill="#23954a"/><path d="M536,76 L536,92" stroke="#23954a" stroke-width="2"/><path d="M537,80 l5,-4 M537,84 l5,-4 M537,88 l5,-4 M537,92 l5,-4" stroke="#5fb57e" stroke-width="0.8"/><path d="M485,93.3 L521,93.3" stroke="#23954a" stroke-width="1.4"/><path d="M483,93.3 l4,-3 l0,6 Z M523,93.3 l-4,-3 l0,6 Z" fill="#23954a"/><rect x="499.5" y="93.5" width="6" height="7" fill="none" stroke="#23954a" stroke-width="1.3"/><path d="M502.5,100.5 L502.5,109.2 L552,109.2" fill="none" stroke="#3fae5a" stroke-width="1.2" stroke-dasharray="6,2,2,2"/><path d="M349.8,91 L349.8,129 M356,91 L356,129" stroke="#23954a" stroke-width="1.6"/><path d="M352.9,96 L352.9,100 M352.9,114 L352.9,118" stroke="#5fb57e" stroke-width="0.8"/><circle cx="352.7" cy="137.3" r="8.3" fill="none" stroke="#23954a" stroke-width="1.6"/><text x="352.7" y="137.3" font-size="9" fill="#5fb57e" text-anchor="middle" dy="3" transform="rotate(-90 352.7 137.3)">T</text><path d="M347.3,102.5 L347.3,112" stroke="#23954a" stroke-width="1.8"/><path d="M343,106 l4,-3.5 M343,109.5 l4,-3.5 M343,113 l4,-3.5" stroke="#5fb57e" stroke-width="0.8"/><path d="M359,103 L359,111.5" stroke="#23954a" stroke-width="1.8"/><circle cx="367.3" cy="107.3" r="6.8" fill="none" stroke="#23954a" stroke-width="1.6"/><ellipse cx="367.3" cy="107.3" rx="4.5" ry="2.8" fill="none" stroke="#5fb57e" stroke-width="0.9"/><path d="M363,107.3 L371.6,107.3" stroke="#5fb57e" stroke-width="0.9"/><path d="M374,104.5 L380,107.3 L374,110" fill="none" stroke="#23954a" stroke-width="1.2"/><path d="M338.7,101.5 L338.7,112" stroke="#23954a" stroke-width="1.3"/><path d="M336.2,110.5 l2.5,3.5 l2.5,-3.5 Z" fill="#23954a"/><path d="M337.2,98.5 l3,0 M338.7,97 l0,3" stroke="#5fb57e" stroke-width="0.8"/><path d="M380,107.3 L395.5,107.3" stroke="#d03a55" stroke-width="1"/><path d="M387,105 L391,107.3 L387,109.6" fill="none" stroke="#d03a55" stroke-width="1"/><path d="M395.5,107.3 L400.5,107.3" stroke="#d03a55" stroke-width="1"/><path d="M400.5,105 L405,107.3 L400.5,109.6 Z" fill="#cce5fb" stroke="#d03a55" stroke-width="1"/><path d="M395.5,107.3 L395.5,112" stroke="#d03a55" stroke-width="1"/><path d="M393.2,112 L397.8,112 L395.5,116 Z" fill="#cce5fb" stroke="#d03a55" stroke-width="1"/><path d="M405,107.5 L439.5,107.5 L439.5,154" fill="none" stroke="#d03a55" stroke-width="1" stroke-dasharray="5,2,1.5,2"/><path d="M437,151 L439.5,154.5 L442,151" fill="none" stroke="#d03a55" stroke-width="1"/><ellipse cx="439.7" cy="163.5" rx="7.2" ry="8.5" fill="#cce5fb" stroke="#d03a55" stroke-width="1"/><text x="439.7" y="163.5" font-size="9" fill="#d03a55" text-anchor="middle" dy="3" transform="rotate(90 439.7 163.5)">B</text><path d="M436,176 L443.4,176 L439.7,181 Z" fill="#d03a55"/><path d="M439.7,172 L439.7,177" stroke="#d03a55" stroke-width="1.5"/><path d="M395.5,116 L395.5,259.5 L353.1,259.5 L353.1,236" fill="none" stroke="#d03a55" stroke-width="1" stroke-dasharray="5,2,1.5,2"/><path d="M350.6,239.5 L353.1,235.5 L355.6,239.5" fill="none" stroke="#d03a55" stroke-width="1"/><path d="M346,236 l3,3 M349,236 l-3,3" stroke="#d03a55" stroke-width="0.8"/><rect x="341.5" y="205.3" width="23" height="26.2" fill="#cce5fb" stroke="#d03a55" stroke-width="1.2"/><text x="353" y="218.4" font-size="10" fill="#d03a55" text-anchor="middle" dy="3.5" transform="rotate(-90 353 218.4)" font-weight="normal">f(x)</text><path d="M353.1,205.3 L353.1,183.8 M353.1,171.4 L353.1,154" fill="none" stroke="#d03a55" stroke-width="1"/><path d="M350.8,205.3 L353.1,202 L355.4,205.3" fill="#cce5fb" stroke="#d03a55" stroke-width="0.8"/><path d="M350.6,187.5 L353.1,183.8 L355.6,187.5" fill="none" stroke="#d03a55" stroke-width="1"/><rect x="346.5" y="171.5" width="13" height="12.3" fill="#cce5fb" stroke="#d03a55" stroke-width="1.2"/><text x="353" y="177.6" font-size="10" fill="#d03a55" text-anchor="middle" dy="3.5" transform="rotate(-90 353 177.6)">k</text><path d="M350.8,171.4 L353.1,168.4 L355.4,171.4" fill="#cce5fb" stroke="#d03a55" stroke-width="0.8"/><path d="M353.1,154 L353.1,146" stroke="#3fb060" stroke-width="1"/><path d="M350.6,149.5 L353.1,146 L355.6,149.5" fill="none" stroke="#3fb060" stroke-width="1"/><rect x="246.7" y="488.3" width="18" height="18" fill="none" stroke="#ff8c1a" stroke-width="2"/><path d="M249.7,502.3 L249.7,493.3 L260.7,493.3" fill="none" stroke="#ff8c1a" stroke-width="1"/><path d="M258.7,491.3 L262.2,493.3 L258.7,495.3 Z" fill="#ff8c1a"/><path d="M251.7,506.8 l8,3 l-8,3 l8,3 l-8,3 l8,3 l-8,3" fill="none" stroke="#ff8c1a" stroke-width="1.8"/><path d="M241.7,497.5 L241.7,483.3 L256.7,483.3 L256.7,488.3" fill="none" stroke="#ffa64e" stroke-width="1" stroke-dasharray="2,1.5"/><path d="M236,497.5 L246.7,497.5 M264.7,497.5 L274,497.5" stroke="#ffa64e" stroke-width="1"/><rect x="252.2" y="629.3" width="18" height="18" fill="none" stroke="#ff8c1a" stroke-width="2"/><path d="M255.2,643.3 L255.2,634.3 L266.2,634.3" fill="none" stroke="#ff8c1a" stroke-width="1"/><path d="M264.2,632.3 L267.7,634.3 L264.2,636.3 Z" fill="#ff8c1a"/><path d="M257.2,647.8 l8,3 l-8,3 l8,3 l-8,3 l8,3 l-8,3" fill="none" stroke="#ff8c1a" stroke-width="1.8"/><path d="M247.4,637.8 L247.4,624 L262,624 L262,629.3" fill="none" stroke="#ffa64e" stroke-width="1" stroke-dasharray="2,1.5"/><path d="M241,637.8 L252.2,637.8 M270.2,637.8 L281.2,637.8 L281.2,650" fill="none" stroke="#ffa64e" stroke-width="1"/><path d="M209,534.5 L306.3,534.5 L306.3,607.5 L209,607.5" fill="none" stroke="#ffa64e" stroke-width="1.2"/><circle cx="280.2" cy="534.5" r="3.5" fill="none" stroke="#ff8c1a" stroke-width="1.4"/><path d="M280.2,528.5 L274.2,534.5 L280.2,540.5" fill="none" stroke="#ff8c1a" stroke-width="1.4"/><circle cx="280.3" cy="607.5" r="3.5" fill="none" stroke="#ff8c1a" stroke-width="1.4"/><path d="M280.3,601.5 L274.3,607.5 L280.3,613.5" fill="none" stroke="#ff8c1a" stroke-width="1.4"/><path d="M218.5,534.5 L218.5,497.5 L236,497.5" fill="none" stroke="#4646fa" stroke-width="1.2"/><path d="M226,534.5 L262,534.5 M300,534.5 L306.3,534.5 L306.3,565 M306.3,578 L306.3,607.5 L300,607.5 M229,607.5 L262,607.5" fill="none" stroke="#4646fa" stroke-width="1.2"/><path d="M222.8,613 L222.8,637.8 L241,637.8 M281.2,637.8 L281.2,668" fill="none" stroke="#4646fa" stroke-width="1.2"/><path d="M274,497.5 L301.5,497.5" stroke="#4646fa" stroke-width="1.2"/><path d="M209,534.5 L213,534.5 M209,607.5 L213,607.5" stroke="#ff8c1a" stroke-width="2"/><circle cx="241.7" cy="497.5" r="2.4" fill="#ff8c1a"/><circle cx="218.5" cy="534.5" r="2.4" fill="#ff8c1a"/><circle cx="247.4" cy="637.8" r="2.4" fill="#ff8c1a"/><circle cx="222.8" cy="607.5" r="2.4" fill="#ff8c1a"/><circle cx="306.6" cy="571.5" r="2.4" fill="#ff8c1a"/><circle cx="281.2" cy="675.5" r="2.4" fill="#ff8c1a"/><rect x="208.8" y="457.8" width="104.9" height="227" fill="rgb(140,190,212)" fill-opacity="0.4" stroke="#4a4f55" stroke-width="1.5"/>
</svg></body></html>
